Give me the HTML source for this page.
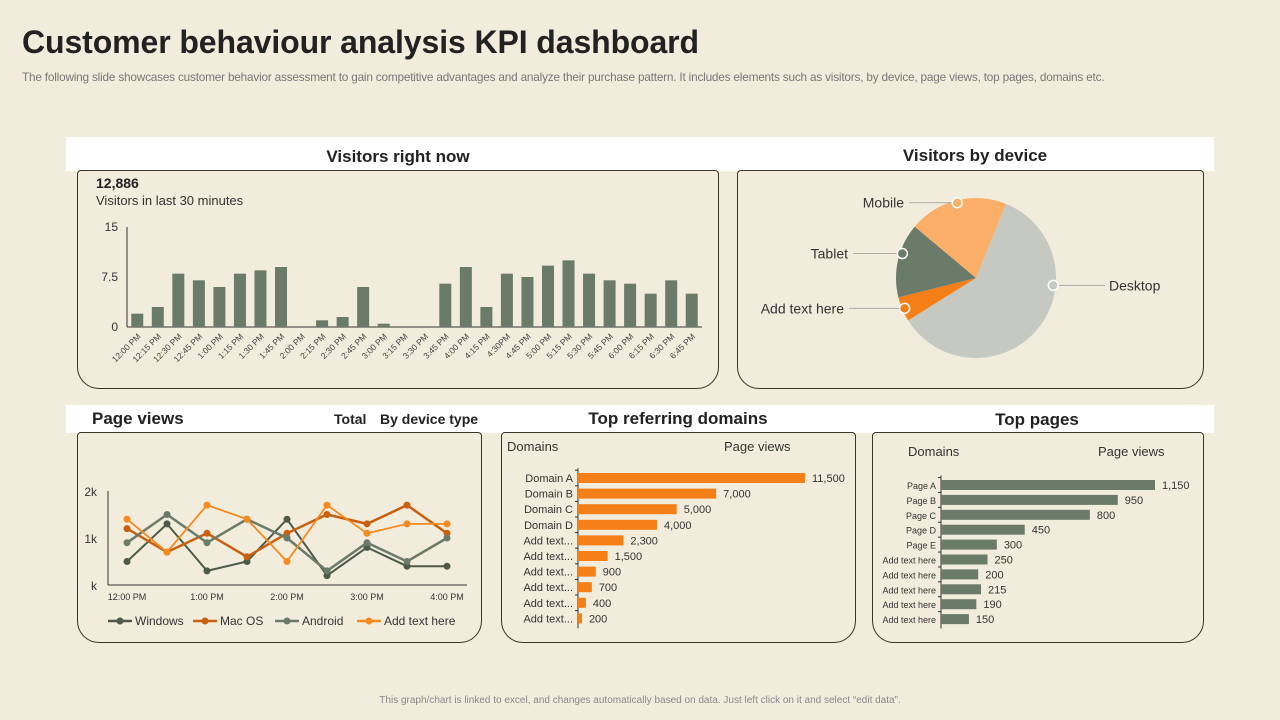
<!DOCTYPE html>
<html><head><meta charset="utf-8"><style>
body{margin:0;width:1280px;height:720px;background:#f2ecdd;font-family:"Liberation Sans",sans-serif;overflow:hidden;position:relative;color:#222}
.abs{position:absolute}
.band{position:absolute;background:#fff}
.box{position:absolute;border:1px solid #3a3327;border-radius:4px 4px 22px 22px;background:#f2ecdd}
.h{position:absolute;font-weight:bold;font-size:17px;text-align:center}
svg{position:absolute;left:0;top:0}
</style></head><body>
<div class="abs" style="left:22px;top:24px;font-size:32px;font-weight:bold;color:#222;letter-spacing:-0.1px">Customer behaviour analysis KPI dashboard</div>
<div class="abs" style="left:22px;top:70px;font-size:11.8px;color:#777;letter-spacing:-0.2px">The following slide showcases customer behavior assessment to gain competitive advantages and analyze their purchase pattern. It includes elements such as visitors, by device, page views, top pages, domains etc.</div>
<div class="band" style="left:66px;top:137px;width:1148px;height:34px"></div>
<div class="band" style="left:66px;top:405px;width:1148px;height:28px"></div>
<div class="h" style="left:77px;top:147px;width:642px">Visitors right now</div>
<div class="h" style="left:737px;top:146px;width:476px">Visitors by device</div>
<div class="h" style="left:92px;top:409px">Page views</div>
<div class="abs" style="left:334px;top:411px;font-size:14px;font-weight:bold">Total</div>
<div class="abs" style="left:380px;top:411px;font-size:14px;font-weight:bold">By device type</div>
<div class="h" style="left:501px;top:409px;width:354px">Top referring domains</div>
<div class="h" style="left:872px;top:410px;width:330px">Top pages</div>
<div class="box" style="left:77px;top:170px;width:640px;height:217px"></div>
<div class="box" style="left:737px;top:170px;width:465px;height:217px"></div>
<div class="box" style="left:77px;top:432px;width:403px;height:209px"></div>
<div class="box" style="left:501px;top:432px;width:353px;height:209px"></div>
<div class="box" style="left:872px;top:432px;width:330px;height:209px"></div>
<div class="abs" style="left:96px;top:175px;font-size:14px;font-weight:bold">12,886</div>
<div class="abs" style="left:96px;top:193px;font-size:13px;color:#333">Visitors in last 30 minutes</div>
<div class="abs" style="left:0;width:1280px;top:695px;font-size:10px;color:#888;text-align:center">This graph/chart is linked to excel, and changes automatically based on data. Just left click on it and select “edit data”.</div>
<svg id="s" width="1280" height="720"></svg>
<script>
const barLabels=["12:00 PM","12:15 PM","12:30 PM","12:45 PM","1:00 PM","1:15 PM","1:30 PM","1:45 PM","2:00 PM","2:15 PM","2:30 PM","2:45 PM","3:00 PM","3:15 PM","3:30 PM","3:45 PM","4:00 PM","4:15 PM","4:30PM","4:45 PM","5:00 PM","5:15 PM","5:30 PM","5:45 PM","6:00 PM","6:15 PM","6:30 PM","6:45 PM"];
const barValues=[2,3,8,7,6,8,8.5,9,0,1,1.5,6,0.5,0,0,6.5,9,3,8,7.5,9.2,10,8,7,6.5,5,7,5];
const barTicks=[0,7.5,15];
const pieLabels=["Desktop","Add text here","Tablet","Mobile"];
const pieValues=[60,5,15,20];
const lineTimes=["12:00 PM","12:30","1:00 PM","1:30","2:00 PM","2:30","3:00 PM","3:30","4:00 PM"];
const lineTickLabels=["12:00 PM","1:00 PM","2:00 PM","3:00 PM","4:00 PM"];
const windows=[0.5,1.3,0.3,0.5,1.4,0.2,0.8,0.4,0.4];
const macos=[1.2,0.7,1.1,0.6,1.1,1.5,1.3,1.7,1.1];
const android=[0.9,1.5,0.9,1.4,1.0,0.3,0.9,0.5,1.0];
const addText=[1.4,0.7,1.7,1.4,0.5,1.7,1.1,1.3,1.3];
const domainLabels=["Domain A","Domain B","Domain C","Domain D","Add text...","Add text...","Add text...","Add text...","Add text...","Add text..."];
const domainValues=[11500,7000,5000,4000,2300,1500,900,700,400,200];
const pageLabels=["Page A","Page B","Page C","Page D","Page E","Add text here","Add text here","Add text here","Add text here","Add text here"];
const pageValues=[1150,950,800,450,300,250,200,215,190,150];

const S=document.getElementById('s');const NS='http://www.w3.org/2000/svg';
function mk(t,a,txt){const e=document.createElementNS(NS,t);for(const k in a)e.setAttribute(k,a[k]);if(txt!==undefined)e.textContent=txt;S.appendChild(e);return e;}
const fmt=v=>v.toLocaleString('en-US');
// bar chart
{const x0=127,x1=702,y0=327,yT=227,max=15;const step=(x1-x0)/barValues.length;const ys=v=>y0-(v/max)*(y0-yT);
 mk('line',{x1:x0,y1:yT,x2:x0,y2:y0,stroke:'#333'});mk('line',{x1:x0,y1:y0,x2:x1,y2:y0,stroke:'#333'});
 barTicks.forEach(t=>{const e=mk('text',{x:118,y:ys(t)+4,'text-anchor':'end','font-size':12,fill:'#333'},t);});
 barValues.forEach((v,i)=>{const cx=x0+step*(i+0.5);const r=mk('rect',{x:cx-6,y:ys(v),width:12,height:y0-ys(v),fill:'#6b7b69'});
  const t=mk('text',{x:cx+4,y:y0+10,'text-anchor':'end','font-size':8.5,fill:'#444',transform:`rotate(-45 ${cx+4} ${y0+10})`},barLabels[i]);});}
// pie
{const cx=976,cy=278,r=80;const cols=['#c5c9c2','#f57f17','#6b7b69','#fbae68'];const tot=pieValues.reduce((a,b)=>a+b,0);let a=22;
 const pt=(deg,rr)=>[cx+rr*Math.sin(deg*Math.PI/180),cy-rr*Math.cos(deg*Math.PI/180)];
 const starts=[];
 pieValues.forEach((v,i)=>{const sw=v/tot*360;const p1=pt(a,r),p2=pt(a+sw,r);const p=mk('path',{d:`M${cx},${cy}L${p1[0]},${p1[1]}A${r},${r} 0 ${sw>180?1:0} 1 ${p2[0]},${p2[1]}Z`,fill:cols[i]});starts.push([a,sw]);a+=sw;});
 // marker position as fraction along each slice's arc
 const frac=[0.34,0.5,0.6,0.5];
 const lblX=[1109,844,848,904];
 pieValues.forEach((v,i)=>{const ang=starts[i][0]+starts[i][1]*frac[i];const m=pt(ang,r*0.97);const right=i===0;
  mk('line',{x1:m[0],y1:m[1],x2:right?lblX[i]-4:lblX[i]+5,y2:m[1],stroke:'#aaa'});
  mk('circle',{cx:m[0],cy:m[1],r:5,fill:cols[i],stroke:'#fff','stroke-width':1.5});
  const t=mk('text',{x:lblX[i],y:m[1]+5,'text-anchor':right?'start':'end','font-size':14,fill:'#333'},pieLabels[i]);});}
// line chart
{const x0=108,xa=127,step=40,y0=585,yT=491,max=2;const ys=v=>y0-(v/max)*(y0-yT);
 mk('line',{x1:x0,y1:yT,x2:x0,y2:y0,stroke:'#333'});mk('line',{x1:x0,y1:y0,x2:467,y2:y0,stroke:'#333'});
 [['k',0],['1k',1],['2k',2]].forEach(t=>mk('text',{x:97,y:ys(t[1])+5,'text-anchor':'end','font-size':12,fill:'#333'},t[0]));
 lineTickLabels.forEach((l,i)=>mk('text',{x:xa+i*2*step,y:600,'text-anchor':'middle','font-size':9,fill:'#333'},l));
 const ser=[[windows,'#4d5a4b',2],[macos,'#c8600f',2.5],[android,'#6b7b69',2.5],[addText,'#f58a1f',1.8]];
 ser.forEach(([d,c,w])=>{const pl=mk('polyline',{points:d.map((v,i)=>`${xa+i*step},${ys(v)}`).join(' '),fill:'none',stroke:c,'stroke-width':w});
  d.forEach((v,i)=>mk('circle',{cx:xa+i*step,cy:ys(v),r:3.5,fill:c}));});
 const leg=[['Windows',108],['Mac OS',193],['Android',275],['Add text here',357]];
 leg.forEach((l,i)=>{const c=ser[i][1];mk('line',{x1:l[1],y1:621,x2:l[1]+24,y2:621,stroke:c,'stroke-width':2.5});mk('circle',{cx:l[1]+12,cy:621,r:3.5,fill:c});const t=mk('text',{x:l[1]+27,y:625,'font-size':12,fill:'#333'},l[0]);});}
// hbar helper
function hbar(labels,vals,x0,xMax,vMax,y0,step,col,hdrX1,hdrX2,hdrY,lblSize){
 mk('text',{x:hdrX1,y:hdrY,'font-size':13,fill:'#333'},'Domains');mk('text',{x:hdrX2,y:hdrY,'font-size':13,fill:'#333'},'Page views');
 mk('line',{x1:x0,y1:y0-step/2-2,x2:x0,y2:y0+step*(vals.length-0.5)+2,stroke:'#333'});
 vals.forEach((v,i)=>{const y=y0+i*step;const w=v/vMax*(xMax-x0);
  mk('line',{x1:x0-3,y1:y-step/2,x2:x0,y2:y-step/2,stroke:'#333'});
  const r=mk('rect',{x:x0,y:y-5,width:w,height:10,fill:col});
  mk('text',{x:x0-5,y:y+4,'text-anchor':'end','font-size':lblSize,fill:'#333'},labels[i]);
  mk('text',{x:x0+w+7,y:y+4,'font-size':11,fill:'#333'},fmt(v));});}
hbar(domainLabels,domainValues,578,805,11500,478,15.6,'#f57f17',507,724,451,11);
hbar(pageLabels,pageValues,941,1155,1150,485,14.9,'#6b7b69',908,1098,456,9);
</script>
</body></html>
